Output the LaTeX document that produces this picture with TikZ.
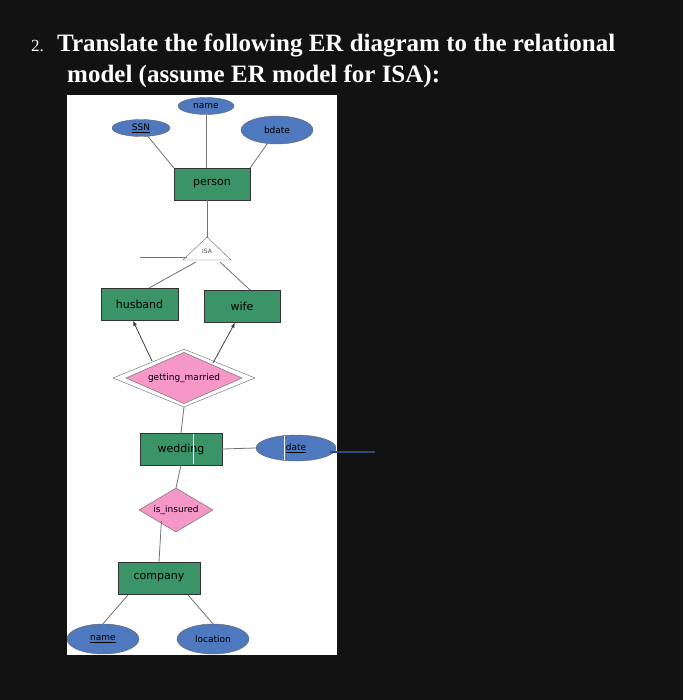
\documentclass[tikz,border=0pt]{standalone}
\usepackage{fontspec}
\setmainfont{Liberation Serif}
\newfontfamily\dfont{DejaVu Sans}
\usetikzlibrary{shapes.geometric,arrows.meta}
\definecolor{ent}{HTML}{3A9468}
\definecolor{att}{HTML}{4F79BF}
\definecolor{rel}{HTML}{F598C8}
\definecolor{bg}{HTML}{121212}
\tikzset{
 ent/.style={draw=black!80,fill=ent,minimum height=32pt,font=\dfont\fontsize{11}{11}\selectfont,inner sep=0pt},
 att/.style={ellipse,draw=black!60,fill=att,inner sep=0pt,font=\dfont\fontsize{9}{9}\selectfont},
 rel/.style={diamond,draw=black!60,fill=rel,inner sep=0pt,aspect=1.7,font=\dfont\fontsize{9}{9}\selectfont},
 ln/.style={draw=black!55,line width=0.8pt},
 arr/.style={ln,draw=black!75,-{Latex[length=5pt,width=4pt]}},
 title/.style={text=white,anchor=base west,inner sep=0pt,font=\bfseries\fontsize{25}{25}\selectfont}
}
\begin{document}
\begin{tikzpicture}[x=1pt,y=-1pt]
\fill[bg] (0,0) rectangle (683,700);
\useasboundingbox (0,0) rectangle (683,700);
\node[title,font=\fontsize{17}{17}\selectfont] (num) at (31,52) {2.};
\node[title] (t1) at (57,52) {Translate the following ER diagram to the relational};
\node[title] (t2) at (67,83) {model (assume ER model for ISA):};
\fill[white] (67,95) rectangle (337,655);
% nodes
\node[att,minimum width=56pt,minimum height=17pt] (name) at (206,106) {name};
\node[att,minimum width=58pt,minimum height=17pt] (ssn) at (141,128) {\underline{SSN}};
\node[att,minimum width=72pt,minimum height=28pt] (bdate) at (277,130) {bdate};
\node[ent,minimum width=76pt] (person) at (212,184) {person};
\coordinate (isatop) at (207,237);
\coordinate (isal) at (183,260);
\coordinate (isar) at (231,260);
\draw[draw=black!60,fill=white] (isatop) -- (isar) -- (isal) -- cycle;
\node[font=\dfont\fontsize{6}{6}\selectfont,text=black!70] (isa) at (207,251) {ISA};
\node[ent,minimum width=77pt] (husband) at (139.5,304.5) {husband};
\node[ent,minimum width=76pt] (wife) at (242,306.5) {wife};
\node[diamond,draw=black!60,fill=white,minimum width=142pt,minimum height=58pt,inner sep=0pt] (gmo) at (184,378) {};
\node[rel,minimum width=116pt,minimum height=46pt] (gm) at (184,378) {getting\_married};
\node[ent,minimum width=82pt] (wedding) at (181,449) {wedding};
\draw[white,line width=1pt] (193,434) -- (193,464);
\node[att,minimum width=80pt,minimum height=26pt] (date) at (296,448) {\underline{date}};
\draw[white,line width=1pt] (284,436) -- (284,460);
\coordinate (d1) at (330,452);
\coordinate (d2) at (375,452);
\draw[att!60!black,line width=2pt] (d1) -- (d2);
\node[rel,minimum width=74pt,minimum height=44pt] (ins) at (176,510) {is\_insured};
\node[ent,minimum width=82pt] (company) at (159,578) {company};
\node[att,minimum width=72pt,minimum height=30pt] (cname) at (103,639) {\underline{name}};
\node[att,minimum width=72pt,minimum height=30pt] (loc) at (213,639) {location};
% connectors
\draw[ln] (name) -- (name |- person.north);
\draw[ln] (ssn) -- (person.north west);
\draw[ln] (bdate) -- (person.north east);
\draw[ln] (person.south -| isatop) -- (isatop);
\draw[ln] (isal) ++(4,-3) coordinate (il) -- (il -| husband) ;
\draw[ln] (196,262) -- (149,288);
\draw[ln] (220,262) -- (250,290);
\draw[arr] (152,361) -- (husband.south -| 133,0);
\draw[arr] (213,363) -- (wife.south -| 235,0);
\draw[ln] (gmo.south) -- (wedding.north);
\draw[ln] (wedding.east) -- (date.west);
\draw[ln] (wedding.south) -- (ins.north);
\draw[ln] (ins.south west) ++(4,0) -- (company.north);
\draw[ln] (company.south west) ++(10,1) -- (cname.north);
\draw[ln] (company.south east) ++(-12,1) -- (loc.north);
\end{tikzpicture}
\end{document}
